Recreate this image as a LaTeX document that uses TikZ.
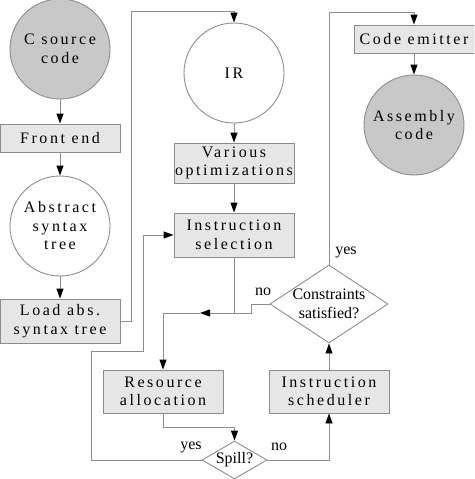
\documentclass[tikz,border=0pt]{standalone}
\usepackage{fontspec}
\setmainfont{Liberation Serif}
\newfontfamily\spaced[LetterSpace=16]{Liberation Serif}
\usetikzlibrary{arrows.meta,shapes.geometric}
\definecolor{linegray}{HTML}{8C8C8C}
\definecolor{boxfill}{HTML}{E6E6E6}
\definecolor{circfill}{HTML}{C8C8C8}
\begin{document}
\begin{tikzpicture}[x=1pt,y=-1pt,
  line/.style={draw=linegray, line width=0.9pt},
  arr/.style={line, -{Triangle[length=10pt,width=7pt,color=black]}},
  box/.style={draw=linegray, line width=0.9pt, fill=boxfill, minimum width=120pt, inner sep=0pt, align=center, font=\spaced\fontsize{16}{18.5}\selectfont},
  circ/.style={circle, draw=linegray, line width=0.9pt, minimum size=100pt, inner sep=0pt, align=center, font=\spaced\fontsize{16}{18.5}\selectfont},
  dia/.style={diamond, draw=linegray, line width=0.9pt, inner sep=0pt},
  plain/.style={inner sep=0pt, align=center, font=\fontsize{16}{18.5}\selectfont}
]
\useasboundingbox (0,0) rectangle (474,479);
\clip (0,0) rectangle (474,479);
\node[circ, fill=circfill] (csrc) at (60,49) {C source\\code};
\node[box, minimum height=28pt] (front) at (60,138) {Front end};
\node[circ] (ast) at (60,226) {Abstract\\syntax\\tree};
\node[box, minimum height=44pt] (load) at (60,321) {Load abs.\\syntax tree};
\node[circ] (ir) at (234,73) {IR};
\node[box, minimum height=40pt] (varopt) at (234,163) {Various\\optimizations};
\node[box, minimum height=44pt] (instsel) at (234,235) {Instruction\\selection};
\node[box, minimum height=43pt] (res) at (163,391.5) {Resource\\allocation};
\node[box, minimum height=43pt] (sched) at (329,391.5) {Instruction\\scheduler};
\node[box, minimum height=28pt] (emit) at (414,39) {Code emitter};
\node[circ, fill=circfill] (asm) at (414,125) {Assembly\\code};
\node[dia, minimum width=118pt, minimum height=78pt] (cons) at (329,304) {};
\node[plain] (constext) at (cons.center) {Constraints\\satisfied?};
\node[dia, minimum width=65pt, minimum height=38pt] (spill) at (234.5,460) {};
\node[plain] (spilltext) at (spill.center) {Spill?};
\node[plain] (yes1) at (191,447) {yes};
\node[plain] (no1) at (279,447) {no};
\node[plain] (yes2) at (346,252) {yes};
\node[plain] (no2) at (263,292) {no};
\coordinate (j1) at (234,313);
\coordinate (mid) at (200,313);
\draw[arr] (csrc) -- (front);
\draw[arr] (front) -- (ast);
\draw[arr] (ast) -- (load);
\draw[arr] (load.east) -| (131,11) -| (ir.north);
\draw[arr] (ir) -- (varopt);
\draw[arr] (varopt) -- (instsel);
\draw[arr] (instsel.south) -- (j1) -- (mid);
\draw[arr] (mid) -| (res.north);
\draw[line] (cons.west) -- ++(-18,0) |- (j1);
\draw[arr] (res.south) -- ++(0,14) -| (spill.north);
\draw[arr] (spill.west) -| (91,351) -| (143,235) -- (instsel.west);
\draw[arr] (spill.east) -| (sched.south);
\draw[arr] (sched.north) -- (cons.south);
\draw[arr] (cons.north) -- (329,12) -| (emit.north);
\draw[arr] (emit) -- (asm);
\end{tikzpicture}
\end{document}
